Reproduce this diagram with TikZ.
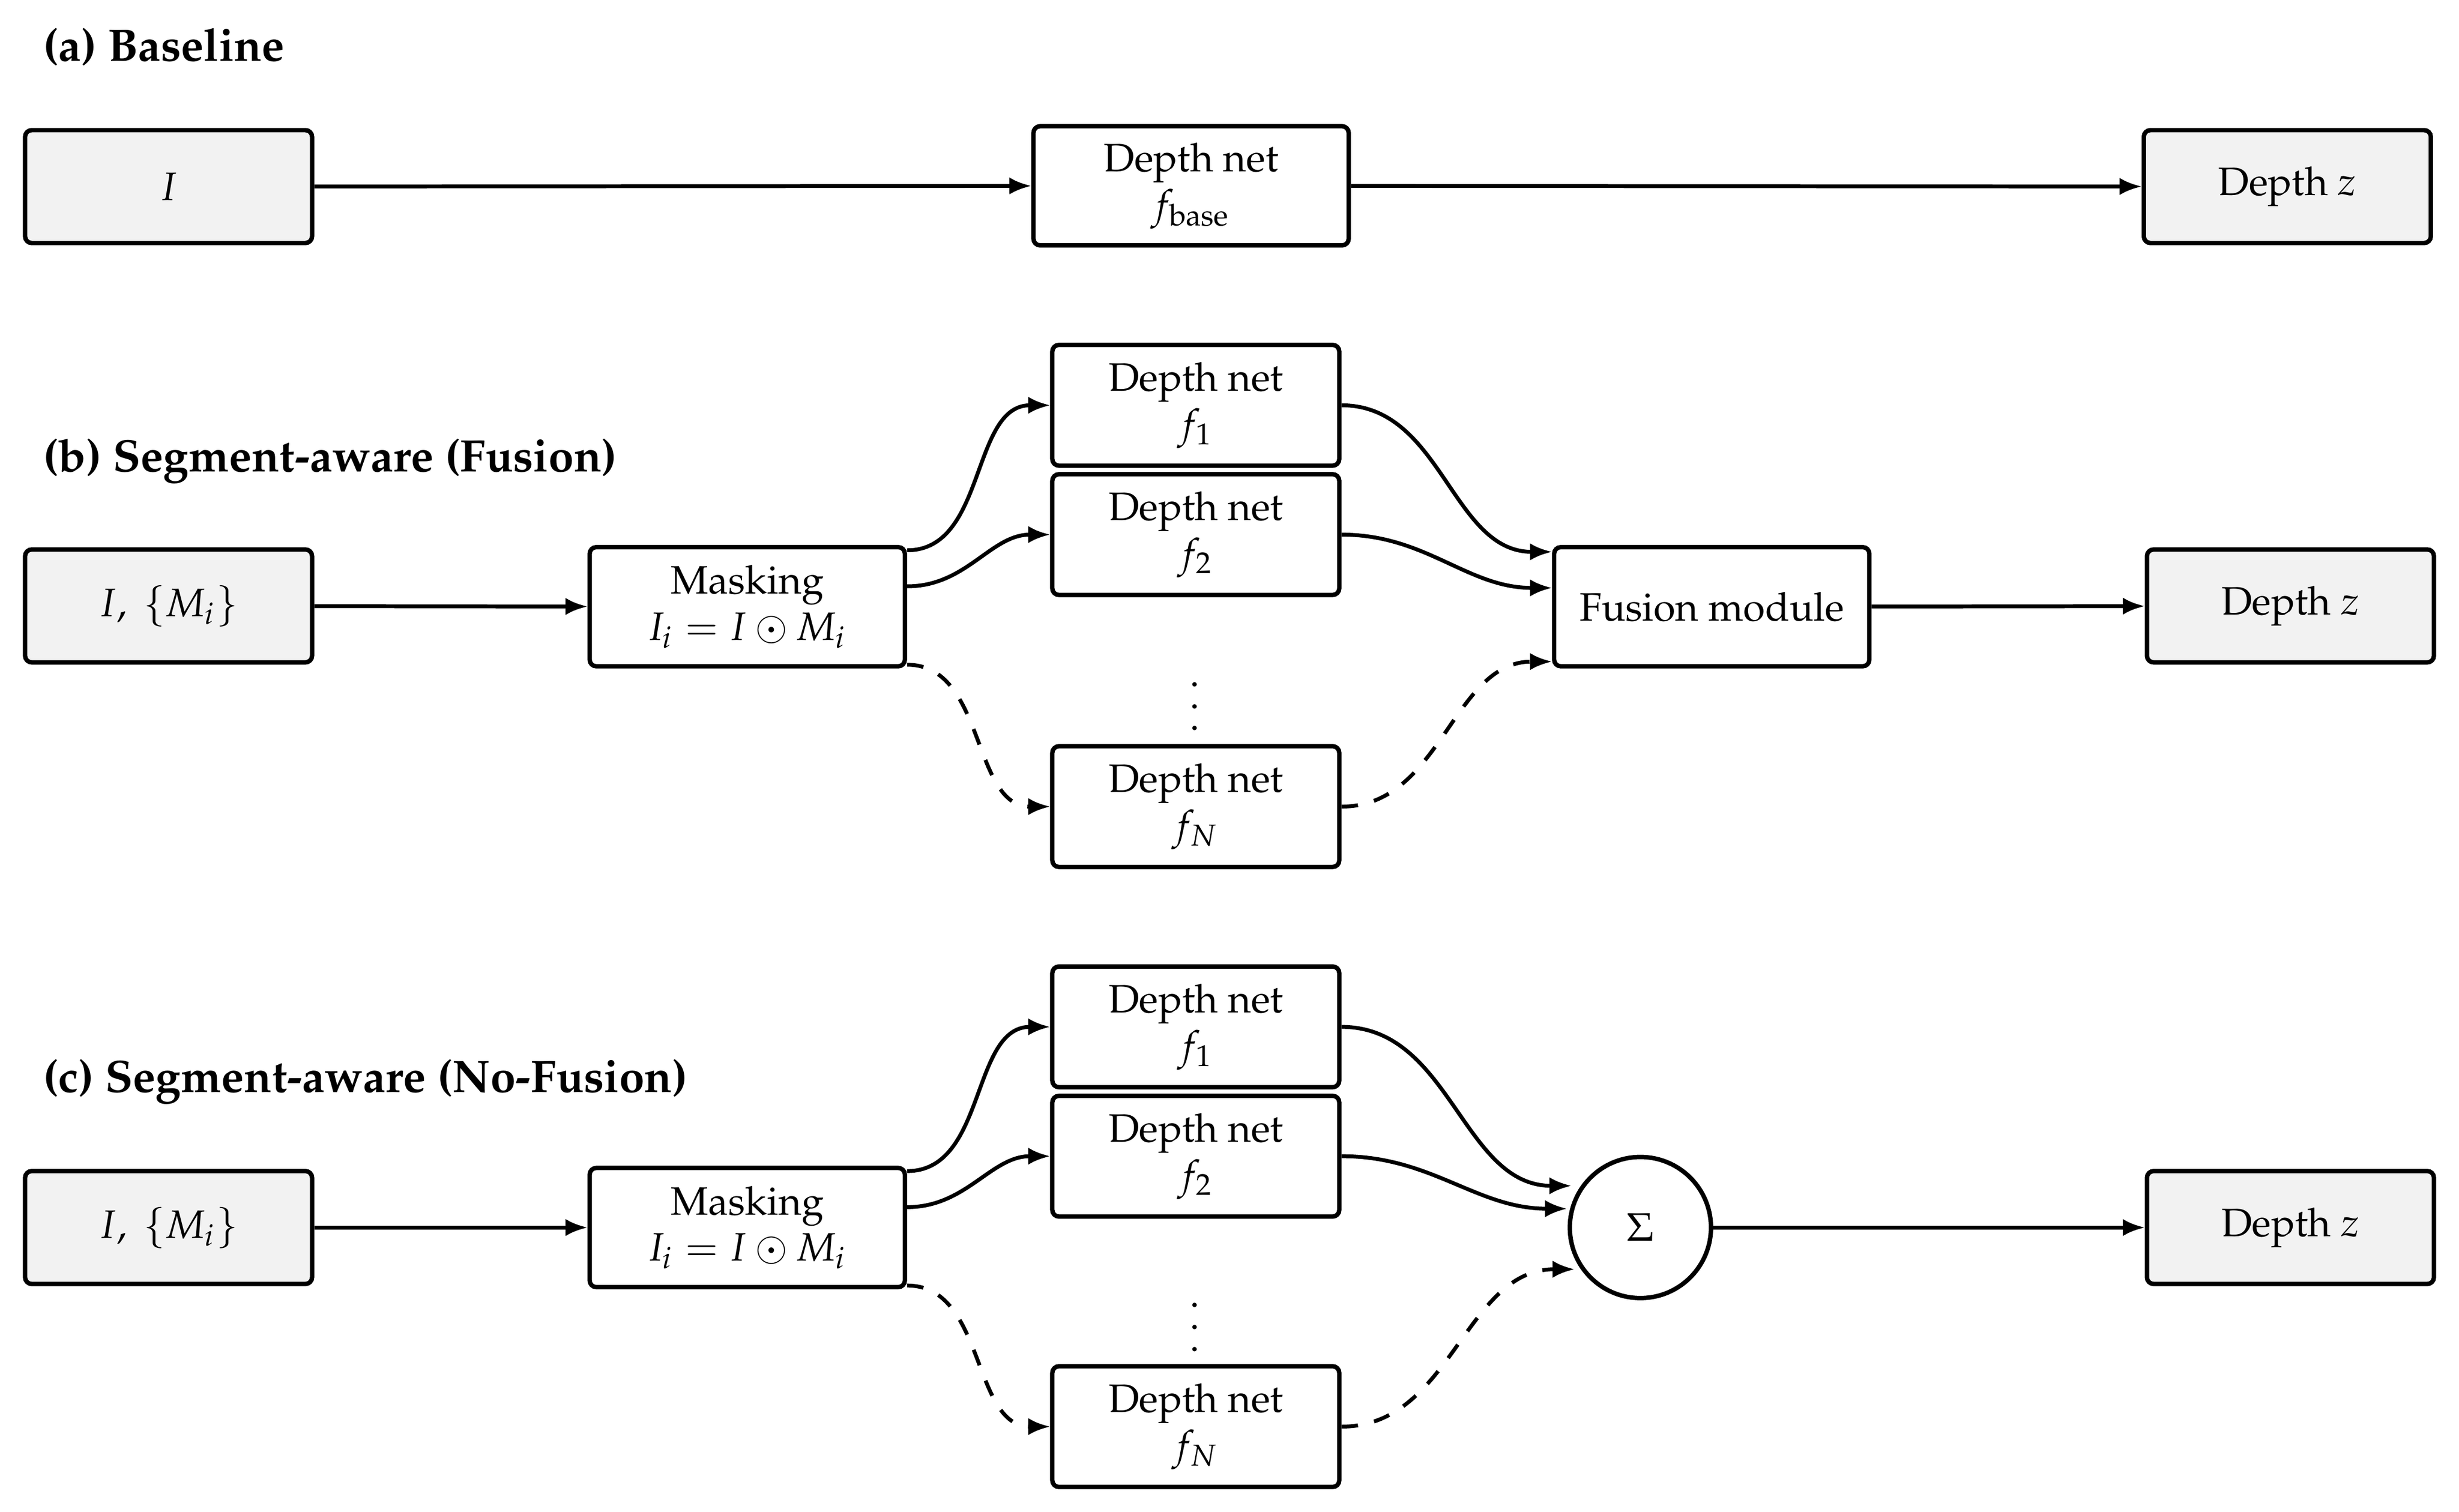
\documentclass[tikz,border=0pt]{standalone}
\usepackage[T1]{fontenc}
\usepackage{mathpazo}
\usepackage{amsmath}
\usetikzlibrary{arrows.meta,positioning,calc}

\tikzset{
  blk/.style={draw, line width=0.8pt, rounded corners=1.2pt, align=center,
    minimum width=2.01cm, minimum height=0.76cm, inner sep=0pt,
    font=\fontsize{7.2}{8.4}\selectfont},
  io/.style={blk, fill=gray!10, minimum width=1.83cm, minimum height=0.72cm},
  net/.style={blk, minimum width=1.83cm, minimum height=0.77cm},
  lnk/.style={line width=0.7pt, -{Latex[length=1.4mm,width=1.1mm]}},
  lbl/.style={anchor=west, font=\fontsize{8.25}{9.5}\selectfont\bfseries, inner sep=0pt},
}

\begin{document}
\begin{tikzpicture}[x=1cm,y=1cm]
  \useasboundingbox (0,0) rectangle (15.68,-9.642);

  % (a) baseline
  \node[lbl] (la) at (0.27,-0.30) {(a) Baseline};
  \node[io] (inA) at (1.075,-1.19) {$I$};
  \node[blk] (netA) at (7.595,-1.185) {Depth net\\$f_{\text{base}}$};
  \node[io] (outA) at (14.585,-1.19) {Depth $z$};
  \draw[lnk] (inA) -- (netA);
  \draw[lnk] (netA) -- (outA);

  % (b) fusion
  \node[lbl] (lb) at (0.27,-2.94) {(b) Segment-aware (Fusion)};
  \node[io] (inB) at (1.075,-3.865) {$I,\ \{M_i\}$};
  \node[blk] (maskB) at (4.765,-3.87) {Masking\\$I_i = I \odot M_i$};
  \node[net] (f1B) at (7.625,-2.585) {Depth net\\$f_1$};
  \node[net] (f2B) at (7.625,-3.41) {Depth net\\$f_2$};
  \node[font=\fontsize{7}{8}\selectfont, inner sep=0pt] (dotsB) at (7.62,-4.40) {$\vdots$};
  \node[net] (fNB) at (7.625,-5.145) {Depth net\\$f_N$};
  \node[blk] (fus) at (10.915,-3.87) {Fusion module};
  \node[io] (outB) at (14.605,-3.865) {Depth $z$};
  \draw[lnk] (inB) -- (maskB);
  \draw[lnk] ([yshift=0.36cm]maskB.east) to[out=0,in=180] (f1B.west);
  \draw[lnk] ([yshift=0.13cm]maskB.east) to[out=0,in=180] (f2B.west);
  \draw[lnk, dashed] ([yshift=-0.37cm]maskB.east) to[out=0,in=180] (fNB.west);
  \draw[lnk] (f1B.east) to[out=0,in=180] ([yshift=0.35cm]fus.west);
  \draw[lnk] (f2B.east) to[out=0,in=180] ([yshift=0.12cm]fus.west);
  \draw[lnk, dashed] (fNB.east) to[out=0,in=180] ([yshift=-0.35cm]fus.west);
  \draw[lnk] (fus) -- (outB);

  % (c) no fusion
  \node[lbl] (lc) at (0.27,-6.90) {(c) Segment-aware (No-Fusion)};
  \node[io] (inC) at (1.075,-7.83) {$I,\ \{M_i\}$};
  \node[blk] (maskC) at (4.765,-7.83) {Masking\\$I_i = I \odot M_i$};
  \node[net] (f1C) at (7.625,-6.55) {Depth net\\$f_1$};
  \node[net] (f2C) at (7.625,-7.375) {Depth net\\$f_2$};
  \node[font=\fontsize{7}{8}\selectfont, inner sep=0pt] (dotsC) at (7.62,-8.36) {$\vdots$};
  \node[net] (fNC) at (7.625,-9.10) {Depth net\\$f_N$};
  \node[draw, circle, line width=0.8pt, minimum size=0.9cm, inner sep=0pt,
    font=\fontsize{7.2}{8}\selectfont] (sum) at (10.46,-7.83) {$\Sigma$};
  \node[io] (outC) at (14.605,-7.83) {Depth $z$};
  \draw[lnk] (inC) -- (maskC);
  \draw[lnk] ([yshift=0.36cm]maskC.east) to[out=0,in=180] (f1C.west);
  \draw[lnk] ([yshift=0.13cm]maskC.east) to[out=0,in=180] (f2C.west);
  \draw[lnk, dashed] ([yshift=-0.37cm]maskC.east) to[out=0,in=180] (fNC.west);
  \draw[lnk] (f1C.east) to[out=0,in=180] ([xshift=-0.06cm]sum.145);
  \draw[lnk] (f2C.east) to[out=0,in=180] ([xshift=-0.02cm]sum.165);
  \draw[lnk, dashed] (fNC.east) to[out=0,in=180] ([xshift=-0.04cm]sum.215);
  \draw[lnk] (sum) -- (outC);
\end{tikzpicture}
\end{document}
